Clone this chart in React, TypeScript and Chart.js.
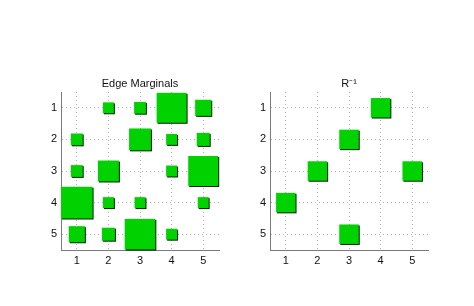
import React, { useEffect, useRef } from "react";
import { Chart, registerables } from "chart.js";

Chart.register(...registerables);

// categories (matrix column = x, matrix row = y)
const xCategories = [1, 2, 3, 4, 5];
const yCategories = [1, 2, 3, 4, 5];
const tickLabels = ["1", "2", "3", "4", "5"];

// Edge Marginals weights (area fraction of a cell), one array per row
const edgeRow1 = [0, 0.12, 0.14, 0.9, 0.26];
const edgeRow2 = [0.14, 0, 0.48, 0.12, 0.17];
const edgeRow3 = [0.14, 0.44, 0, 0.12, 0.9];
const edgeRow4 = [1.0, 0.12, 0.12, 0, 0.12];
const edgeRow5 = [0.26, 0.17, 0.94, 0.12, 0];

// R^-1 weights, one array per row
const rInvRow1 = [0, 0, 0, 0.38, 0];
const rInvRow2 = [0, 0, 0.38, 0, 0];
const rInvRow3 = [0, 0.38, 0, 0, 0.38];
const rInvRow4 = [0.38, 0, 0, 0, 0];
const rInvRow5 = [0, 0, 0.38, 0, 0];

const edgeTitle = "Edge Marginals";
const rInvTitle = "R\u207B\u00B9";

type Cell = { x: number; y: number; w: number };

function toCells(rows: number[][]): Cell[] {
  const out: Cell[] = [];
  rows.forEach((row, r) => {
    row.forEach((w, c) => {
      if (w > 0) out.push({ x: xCategories[c], y: yCategories[r], w });
    });
  });
  return out;
}

const FONT = "'Liberation Sans', Arial, Helvetica, sans-serif";

const shadowPlugin = {
  id: "hintonShadow",
  beforeDatasetsDraw(chart: any) {
    const c = chart.ctx;
    c.save();
    c.shadowColor = "rgba(5,35,5,1)";
    c.shadowOffsetX = 1;
    c.shadowOffsetY = 1;
    c.shadowBlur = 0;
  },
  afterDatasetsDraw(chart: any) {
    chart.ctx.restore();
  },
};

function makeConfig(title: string, cells: Cell[]): any {
  const gridOpts = { color: "#b0b0b0", drawTicks: false, lineWidth: 1 };
  const borderOpts = { display: true, color: "#7a7a7a", width: 1, dash: [1, 3] };
  const tickFont = { family: FONT, size: 11 };
  const labelFor = (v: number) => {
    const i = xCategories.indexOf(v);
    return i >= 0 ? tickLabels[i] : "";
  };
  return {
    type: "scatter",
    data: {
      datasets: [
        {
          data: cells,
          pointStyle: "rect",
          backgroundColor: "#00d200",
          pointBackgroundColor: "#00d200",
          pointBorderWidth: 0,
          borderWidth: 0,
          clip: false,
          pointRadius: (ctx: any) => {
            if (!ctx.raw) return 0;
            const sc = ctx.chart.scales.x;
            const unit = Math.abs(sc.getPixelForValue(1) - sc.getPixelForValue(0));
            return (Math.sqrt(ctx.raw.w) * unit) / Math.SQRT2;
          },
          pointHoverRadius: 0,
        },
      ],
    },
    options: {
      responsive: false,
      animation: false,
      events: [],
      layout: { padding: { left: 0, right: 10, top: 0, bottom: 0 } },
      plugins: {
        legend: { display: false },
        tooltip: { enabled: false },
        title: {
          display: true,
          text: title,
          fullSize: false,
          color: "#111",
          font: { family: FONT, size: 11, weight: "normal" },
          padding: { top: 17, bottom: 1.8 },
        },
      },
      scales: {
        x: {
          type: "linear",
          min: 0.5,
          max: 5.5,
          afterBuildTicks: (s: any) => {
            s.ticks = xCategories.map((v) => ({ value: v }));
          },
          afterFit: (s: any) => {
            s.height = 56;
          },
          ticks: {
            callback: (v: any) => labelFor(v),
            font: tickFont,
            color: "#111",
            padding: 4,
            maxRotation: 0,
            autoSkip: false,
          },
          grid: gridOpts,
          border: borderOpts,
        },
        y: {
          type: "linear",
          min: 0.5,
          max: 5.5,
          reverse: true,
          afterBuildTicks: (s: any) => {
            s.ticks = yCategories.map((v) => ({ value: v }));
          },
          afterFit: (s: any) => {
            s.width = 41;
          },
          ticks: {
            callback: (v: any) => {
              const i = yCategories.indexOf(v);
              return i >= 0 ? tickLabels[i] : "";
            },
            font: tickFont,
            color: "#111",
            padding: 4,
            autoSkip: false,
          },
          grid: gridOpts,
          border: borderOpts,
        },
      },
    },
    plugins: [shadowPlugin],
  };
}

function HintonChart({ title, rows, left }: { title: string; rows: number[][]; left: number }) {
  const ref = useRef<HTMLCanvasElement | null>(null);
  useEffect(() => {
    if (!ref.current) return;
    const chart = new Chart(ref.current, makeConfig(title, toCells(rows)));
    return () => chart.destroy();
  }, [title, rows]);
  return (
    <canvas
      ref={ref}
      width={209}
      height={246}
      style={{ position: "absolute", left, top: 60, width: 209, height: 246 }}
    />
  );
}

const edgeRows = [edgeRow1, edgeRow2, edgeRow3, edgeRow4, edgeRow5];
const rInvRows = [rInvRow1, rInvRow2, rInvRow3, rInvRow4, rInvRow5];

export default function App() {
  return (
    <div
      style={{
        position: "absolute",
        left: 0,
        top: 0,
        width: 474,
        height: 306,
        background: "#fff",
        overflow: "hidden",
      }}
    >
      <HintonChart title={edgeTitle} rows={edgeRows} left={20} />
      <HintonChart title={rInvTitle} rows={rInvRows} left={229} />
    </div>
  );
}
